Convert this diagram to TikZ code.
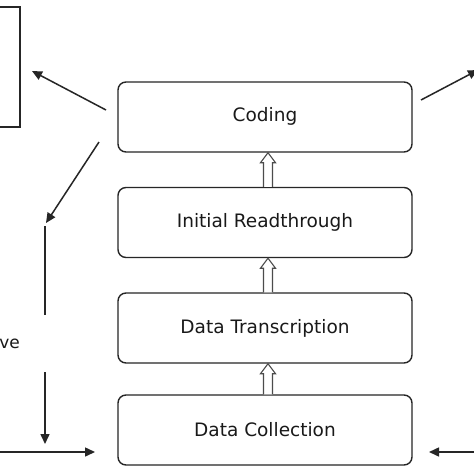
\documentclass[tikz,border=0pt]{standalone}
\usepackage{fontspec}
\setmainfont{DejaVu Sans}
\usetikzlibrary{arrows.meta,calc}
\begin{document}
\begin{tikzpicture}[x=1pt,y=-1pt,
  stagebox/.style={draw=black!85,line width=1.4pt,rounded corners=8pt,minimum width=294pt,minimum height=70pt,inner sep=0pt,font=\fontsize{18.5}{20}\selectfont,text=black!90},
  conn/.style={draw=black!85,line width=1.5pt,-{Triangle[length=10pt,width=9pt]}},
  plain/.style={draw=black!85,line width=1.5pt},
  hollow/.style={draw=black!70,line width=1.1pt,fill=white}]
\useasboundingbox (0,0) rectangle (474,474);
\fill[white] (0,0) rectangle (474,474);
% stage boxes
\node[stagebox] (coding) at (265,117) {\raisebox{6pt}{Coding}};
\node[stagebox] (read) at (265,222.5) {Initial Readthrough};
\node[stagebox] (trans) at (265,328) {Data Transcription};
\node[stagebox] (coll) at (265,430) {\raisebox{-4pt}{Data Collection}};
% hollow arrows between stages
\foreach \lo/\hi in {read/coding,trans/read,coll/trans}{
  \path[hollow] ($(\lo.north)+(-1.5,0)$) -- ($(\hi.south)+(-1.5,10)$) -- ($(\hi.south)+(-4.5,10)$) -- ($(\hi.south)+(3,0)$) -- ($(\hi.south)+(10.5,10)$) -- ($(\hi.south)+(7.5,10)$) -- ($(\lo.north)+(7.5,0)$);
}
% partial box at left
\draw[line width=1.8pt,draw=black!85] (-10,7) -- (20,7) -- (20,127) -- (-10,127);
\node[text=black!90,font=\fontsize{17}{20}\selectfont,anchor=east,inner sep=0pt] (vetext) at (20,344) {ve};
% free end coordinates
\coordinate (c1s) at (106,110);
\coordinate (c1e) at (32,71);
\coordinate (c2s) at (99,142);
\coordinate (c2e) at (46,223);
\coordinate (v1s) at (45,226);
\coordinate (v1e) at (45,315);
\coordinate (v2s) at (45,372);
\coordinate (v2e) at (45,444);
\coordinate (hls) at (-5,452);
\coordinate (hle) at (95,452);
\coordinate (rs) at (421,100);
\coordinate (re) at (478,70);
\coordinate (hrs) at (480,452);
\coordinate (hre) at (429,452);
\draw[conn] (c1s) -- (c1e);
\draw[conn] (c2s) -- (c2e);
\draw[plain] (v1s) -- (v1e);
\draw[conn] (v2s) -- (v2e);
\draw[conn] (hls) -- (hle);
\draw[conn] (rs) -- (re);
\draw[conn] (hrs) -- (hre);
\end{tikzpicture}
\end{document}
